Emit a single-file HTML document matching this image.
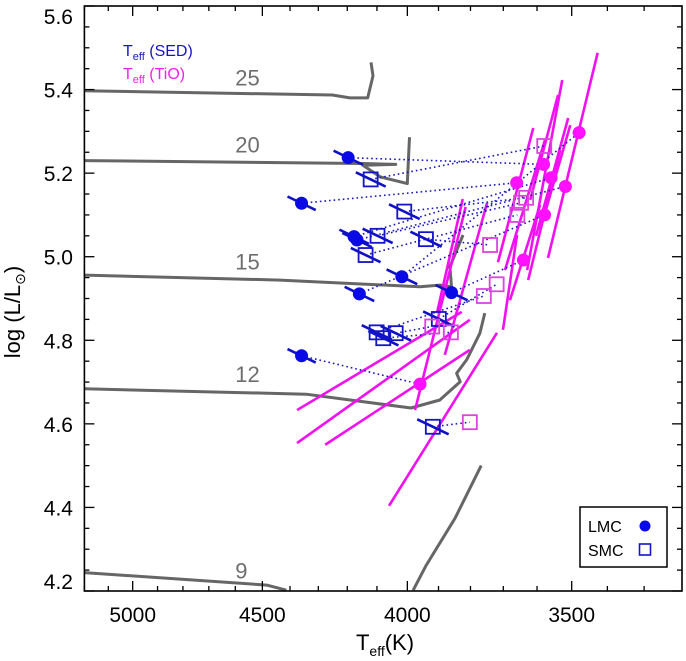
<!DOCTYPE html>
<html><head><meta charset="utf-8"><style>
html,body{margin:0;padding:0;background:#fff;}
svg{display:block;font-family:"Liberation Sans",Arial,sans-serif;}
</style></head><body>
<svg id="chart" width="686" height="661" viewBox="0 0 686 661">
<g id="tracks"></g>
<g id="bars"></g>
<g id="links"></g>
<g id="marks"></g>
<g id="axes"></g>
<g>
<text x="123" y="56" font-size="16" fill="#1414c8">T<tspan font-size="11" dy="4">eff</tspan><tspan dy="-4"> (SED)</tspan></text>
<text x="123" y="79" font-size="16" fill="#ee22ee">T<tspan font-size="11" dy="4">eff</tspan><tspan dy="-4"> (TiO)</tspan></text>
</g>
<g>
<rect x="580" y="507" width="87" height="60" fill="#fff" stroke="#000" stroke-width="1.5"/>
<text x="588" y="532" font-size="16" fill="#000">LMC</text>
<circle cx="645" cy="526" r="5.5" fill="#0a0ae6"/>
<text x="588" y="556" font-size="16" fill="#000">SMC</text>
<rect x="639.5" y="544" width="11" height="11" fill="none" stroke="#1414c8" stroke-width="1.6"/>
</g>
</svg>
<script>
// ---- data ----
const xTicks = [5000, 4500, 4000, 3500];
const yTicks = [4.2, 4.4, 4.6, 4.8, 5.0, 5.2, 5.4, 5.6];
const trackMasses = ["25", "20", "15", "12", "9"];
const trackLabelT = [4600, 4600, 4600, 4600, 4600];
const trackLabelL = [5.41, 5.25, 4.97, 4.70, 4.23];
const track25T = [5200, 4251, 4191, 4131, 4113, 4120];
const track25L = [5.397, 5.387, 5.380, 5.380, 5.433, 5.465];
const track20T = [5200, 4147, 4038, 4147, 4089, 4000, 3993];
const track20L = [5.230, 5.223, 5.221, 5.219, 5.191, 5.175, 5.286];
const track15T = [5200, 4436, 3959, 3896, 3859, 3864, 3823];
const track15L = [4.956, 4.944, 4.928, 4.932, 4.928, 4.976, 5.052];
const track12T = [5200, 4343, 3988, 3896, 3832, 3843, 3812, 3771, 3756];
const track12L = [4.684, 4.671, 4.638, 4.657, 4.701, 4.721, 4.753, 4.817, 4.865];
const track9aT = [5200, 4484, 4413];
const track9aL = [4.244, 4.214, 4.202];
const track9bT = [3981, 3939, 3848, 3767];
const track9bL = [4.202, 4.262, 4.374, 4.500];
// LMC stars
const lmcSedT = [4197, 4359, 4177, 4167, 4018, 4159, 3859, 4359];
const lmcSedL = [5.237, 5.128, 5.048, 5.040, 4.952, 4.911, 4.914, 4.763];
const lmcTioT = [3581, 3660, 3559, 3518, 3479, 3578, 3640, 3959];
const lmcTioL = [5.221, 5.177, 5.189, 5.168, 5.297, 5.100, 4.992, 4.695];
// SMC stars
const smcSedT = [4121, 4010, 4098, 3940, 4138, 3899, 4101, 4079, 4038, 3918];
const smcSedL = [5.185, 5.108, 5.050, 5.042, 5.004, 4.851, 4.819, 4.805, 4.817, 4.593];
const smcTioT = [3579, 3632, 3647, 3740, 3658, 3720, 3759, 3861, 3920, 3802];
const smcTioL = [5.265, 5.141, 5.129, 5.028, 5.100, 4.934, 4.906, 4.819, 4.833, 4.604];
// TiO error ranges (segments)
const tioBarT1 = [3427, 3510, 3527, 3611, 3504, 3533, 3591, 3539, 3577, 3659, 3749, 3824, 3815, 4375, 4375, 4276, 3719];
const tioBarL1 = [5.488, 5.332, 5.423, 5.308, 5.315, 5.255, 5.124, 5.387, 5.279, 5.052, 5.129, 5.138, 5.119, 4.633, 4.554, 4.550, 4.818];
const tioBarT2 = [3568, 3603, 3629, 3716, 3591, 3626, 3680, 3620, 3695, 3701, 3880, 3905, 3975, 3827, 3802, 3802, 4060];
const tioBarL2 = [4.997, 5.050, 4.968, 4.987, 5.064, 4.944, 4.896, 5.136, 4.968, 4.825, 4.765, 4.865, 4.633, 4.868, 4.849, 4.777, 4.404];
const sedErrT = 50;
const sedSlope = 3.25;

// ---- axes ----
const X0 = 84.4, X1 = 682, Y0 = 6, Y1 = 591;
const T_MAX = 5200, T_MIN = 3200, L_MIN = 4.2, L_MAX = 5.6;
function xs(T){ return X0 + (Math.log10(T_MAX) - Math.log10(T)) / (Math.log10(T_MAX) - Math.log10(T_MIN)) * (X1 - X0); }
function ys(L){ return Y1 - (L - L_MIN) / (L_MAX - L_MIN) * (Y1 - Y0); }
const NS = "http://www.w3.org/2000/svg";
function mk(tag, parent, attrs){ const e = document.createElementNS(NS, tag); for (const k in attrs) e.setAttribute(k, attrs[k]); parent.appendChild(e); return e; }

const gT = document.getElementById('tracks');
const gB = document.getElementById('bars');
const gLk = document.getElementById('links');
const gM = document.getElementById('marks');
const gA = document.getElementById('axes');

const defs = mk('defs', document.getElementById('chart'), {});
const cp = mk('clipPath', defs, {id:'plotclip'});
mk('rect', cp, {x:X0, y:Y0, width:X1-X0, height:Y1-Y0});
gT.setAttribute('clip-path','url(#plotclip)');
gB.setAttribute('clip-path','url(#plotclip)');

const tracks = [[track25T,track25L],[track20T,track20L],[track15T,track15L],[track12T,track12L],[track9aT,track9aL],[track9bT,track9bL]];
tracks.forEach(function(tr){
  const pts = tr[0].map(function(t,i){ return xs(t).toFixed(1)+','+ys(tr[1][i]).toFixed(1); }).join(' ');
  const p = mk('polyline', gT, {points:pts, fill:'none', stroke:'#666', 'stroke-width':3, 'stroke-linejoin':'round'});
  
  
});
trackMasses.forEach(function(m,i){
  const t = mk('text', gT, {x:xs(trackLabelT[i]), y:ys(trackLabelL[i]), 'font-size':22, fill:'#6e6e6e'});
  t.textContent = m;
  
  
});

tioBarT1.forEach(function(t,i){
  const l = mk('line', gB, {x1:xs(t), y1:ys(tioBarL1[i]), x2:xs(tioBarT2[i]), y2:ys(tioBarL2[i]), stroke:'#f010f0', 'stroke-width':2.6});
  
  
});

function sedBar(T, L){
  const d1 = Math.log10(T + sedErrT) - Math.log10(T);
  const d2 = Math.log10(T) - Math.log10(T - sedErrT);
  const l = mk('line', gB, {x1:xs(T + sedErrT), y1:ys(L + sedSlope*d1), x2:xs(T - sedErrT), y2:ys(L - sedSlope*d2), stroke:'#1010c8', 'stroke-width':2.6});
  
  
}
function link(T1, L1, T2, L2){
  const l = mk('line', gLk, {x1:xs(T1), y1:ys(L1), x2:xs(T2), y2:ys(L2), stroke:'#1818c0', 'stroke-width':1.6, 'stroke-dasharray':'1.6,3'});
  
  
}
lmcSedT.forEach(function(t,i){ sedBar(t, lmcSedL[i]); link(t, lmcSedL[i], lmcTioT[i], lmcTioL[i]); });
smcSedT.forEach(function(t,i){ sedBar(t, smcSedL[i]); link(t, smcSedL[i], smcTioT[i], smcTioL[i]); });

lmcSedT.forEach(function(t,i){
  const c = mk('circle', gM, {cx:xs(t), cy:ys(lmcSedL[i]), r:6.5, fill:'#0a0ae6'});
  
  
  const m = mk('circle', gM, {cx:xs(lmcTioT[i]), cy:ys(lmcTioL[i]), r:6.5, fill:'#ff10ff'});
  
  
});
smcSedT.forEach(function(t,i){
  const s = mk('rect', gM, {x:xs(t)-7, y:ys(smcSedL[i])-7, width:14, height:14, fill:'none', stroke:'#1414c8', 'stroke-width':1.8});
  
  
  const m = mk('rect', gM, {x:xs(smcTioT[i])-7, y:ys(smcTioL[i])-7, width:14, height:14, fill:'none', stroke:'#dd44dd', 'stroke-width':1.8});
  
  
});

const fr = mk('rect', gA, {x:X0, y:Y0, width:X1-X0, height:Y1-Y0, fill:'none', stroke:'#000', 'stroke-width':1.6});


for (let T = 3300; T <= 5200; T += 100){
  const x = xs(T); const major = (T % 500 === 0); const len = major ? 10 : 5;
  const a = mk('line', gA, {x1:x, y1:Y1, x2:x, y2:Y1-len, stroke:'#000', 'stroke-width':1.3});
  
  
  const b = mk('line', gA, {x1:x, y1:Y0, x2:x, y2:Y0+len, stroke:'#000', 'stroke-width':1.3});
  
  
}
xTicks.forEach(function(T){
  const t = mk('text', gA, {x:xs(T), y:622, 'font-size':21, 'text-anchor':'middle', fill:'#000'});
  t.textContent = T;
  
  
});
for (let k = 0; k <= 28; k++){
  const L = 4.2 + k*0.05; const y = ys(L); const len = (k % 4 === 0) ? 10 : 5;
  const a = mk('line', gA, {x1:X0, y1:y, x2:X0+len, y2:y, stroke:'#000', 'stroke-width':1.3});
  
  
  const b = mk('line', gA, {x1:X1, y1:y, x2:X1-len, y2:y, stroke:'#000', 'stroke-width':1.3});
  
  
}
yTicks.forEach(function(L){
  let yy = ys(L) + 8;
  if (yy < 24) yy = 24;
  if (yy > 589) yy = 589;
  const t = mk('text', gA, {x:73, y:yy, 'font-size':21, 'text-anchor':'end', fill:'#000'});
  t.textContent = L.toFixed(1);
  
  
});
const xt = mk('text', gA, {x:385, y:650, 'font-size':22, 'text-anchor':'middle', fill:'#000'});
xt.innerHTML = 'T<tspan font-size="14" dy="6">eff</tspan><tspan dy="-6">(K)</tspan>';


const yt = mk('text', gA, {x:0, y:0, 'font-size':22, 'text-anchor':'middle', fill:'#000', transform:'translate(20,312) rotate(-90)'});
yt.innerHTML = 'log (L/L<tspan font-size="14" dy="5">⊙</tspan><tspan dy="-5">)</tspan>';


</script>
</body></html>
